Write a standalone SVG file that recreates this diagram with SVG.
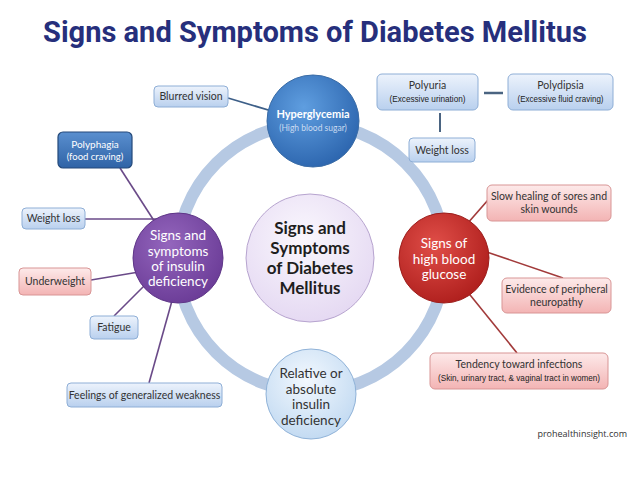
<svg xmlns="http://www.w3.org/2000/svg" width="638" height="478" viewBox="0 0 638 478">
<defs>
<linearGradient id="gBlueBox" x1="0" y1="0" x2="0" y2="1"><stop offset="0" stop-color="#edf3fc"/><stop offset="1" stop-color="#b9d0ee"/></linearGradient>
<linearGradient id="gRedBox" x1="0" y1="0" x2="0" y2="1"><stop offset="0" stop-color="#fdeaea"/><stop offset="1" stop-color="#f3b4b4"/></linearGradient>
<linearGradient id="gDarkBox" x1="0" y1="0" x2="0" y2="1"><stop offset="0" stop-color="#5a8fcf"/><stop offset="1" stop-color="#2f63a6"/></linearGradient>
<radialGradient id="gTop" cx="0.4" cy="0.35" r="0.7"><stop offset="0" stop-color="#5f9ee0"/><stop offset="1" stop-color="#2b64ad"/></radialGradient>
<radialGradient id="gPurple" cx="0.4" cy="0.35" r="0.7"><stop offset="0" stop-color="#9466bd"/><stop offset="1" stop-color="#6a3b96"/></radialGradient>
<radialGradient id="gRed" cx="0.4" cy="0.35" r="0.7"><stop offset="0" stop-color="#e04e48"/><stop offset="1" stop-color="#ae1e1c"/></radialGradient>
<radialGradient id="gCenter" cx="0.45" cy="0.35" r="0.75"><stop offset="0" stop-color="#faf7fd"/><stop offset="1" stop-color="#e2d5f1"/></radialGradient>
<radialGradient id="gBottom" cx="0.45" cy="0.35" r="0.75"><stop offset="0" stop-color="#f2f8fe"/><stop offset="1" stop-color="#bcd6f0"/></radialGradient>
<style>
.t{font-family:Lato,"Open Sans","Liberation Sans",sans-serif;text-anchor:middle}
.bx{font-size:10.5px;fill:#333}
.nar{font-family:"Liberation Sans",Arial,sans-serif;font-size:9.5px;fill:#222;text-anchor:middle}
.bb{fill:url(#gBlueBox);stroke:#8eaed6;stroke-width:1}
.rb{fill:url(#gRedBox);stroke:#d89595;stroke-width:1}
.pl{stroke:#6a4a88;stroke-width:1.6;fill:none}
.rl{stroke:#a23a3a;stroke-width:1.6;fill:none}
.bl{stroke:#3d5f88;stroke-width:1.8;fill:none}
.ct{font-size:13.5px;fill:#fff}
</style>
</defs>
<rect width="638" height="478" fill="#fff"/>
<text x="315" y="42" font-family="Roboto,'Liberation Sans',sans-serif" font-weight="bold" font-size="30" fill="#262f7c" text-anchor="middle" textLength="544" lengthAdjust="spacingAndGlyphs">Signs and Symptoms of Diabetes Mellitus</text>

<g id="connectors">
<circle cx="311" cy="258" r="134" fill="none" stroke="#b6c9e3" stroke-width="12"/>
<line class="bl" x1="228" y1="98" x2="275" y2="112"/>
<line x1="484" y1="93" x2="503" y2="93" stroke="#4a6481" stroke-width="2.5"/>
<line x1="440" y1="113" x2="440" y2="132" stroke="#4a6481" stroke-width="2"/>
<line class="pl" x1="120" y1="168" x2="160" y2="230"/>
<line class="pl" x1="85" y1="219" x2="160" y2="219"/>
<line class="pl" x1="91" y1="280" x2="145" y2="271"/>
<line class="pl" x1="114" y1="316" x2="155" y2="275"/>
<line class="pl" x1="149" y1="383" x2="175" y2="290"/>
<line class="rl" x1="460" y1="232" x2="488" y2="200"/>
<line class="rl" x1="475" y1="248" x2="563" y2="278"/>
<line class="rl" x1="462" y1="285" x2="517" y2="353"/>
</g>

<g id="center">
<circle cx="310" cy="258" r="64" fill="url(#gCenter)" stroke="#b7a4cf" stroke-width="1"/>
<text class="t" font-weight="bold" font-size="17" fill="#1e1e1e"><tspan x="310" y="234">Signs and</tspan><tspan x="310" y="254">Symptoms</tspan><tspan x="310" y="274">of Diabetes</tspan><tspan x="310" y="294">Mellitus</tspan></text>
</g>

<g id="hyperglycemia">
<circle cx="313" cy="121" r="46" fill="url(#gTop)" stroke="#3a6ca6" stroke-width="1"/>
<text class="t" x="313" y="118" font-size="11" font-weight="bold" fill="#fff">Hyperglycemia</text>
<text class="t" x="313" y="131" font-size="8.5" fill="#c9dbf1">(High blood sugar)</text>
</g>

<g id="insulin-signs">
<circle cx="178" cy="258" r="45" fill="url(#gPurple)" stroke="#5e3587" stroke-width="1"/>
<text class="t ct"><tspan x="178" y="240">Signs and</tspan><tspan x="178" y="255.5">symptoms</tspan><tspan x="178" y="270.5">of insulin</tspan><tspan x="178" y="286">deficiency</tspan></text>
</g>

<g id="glucose-signs">
<circle cx="444" cy="258" r="45" fill="url(#gRed)" stroke="#9c1d1b" stroke-width="1"/>
<text class="t ct"><tspan x="444" y="248">Signs of</tspan><tspan x="444" y="263.5">high blood</tspan><tspan x="444" y="279">glucose</tspan></text>
</g>

<g id="insulin-def">
<circle cx="311" cy="394" r="45" fill="url(#gBottom)" stroke="#8fb2d8" stroke-width="1"/>
<text class="t" font-size="13.5" fill="#333"><tspan x="311" y="378">Relative or</tspan><tspan x="311" y="393.5">absolute</tspan><tspan x="311" y="409">insulin</tspan><tspan x="311" y="424.5">deficiency</tspan></text>
</g>

<g id="blurred">
<rect class="bb" x="154" y="86" width="74" height="21" rx="4"/>
<text class="t bx" x="191" y="100">Blurred vision</text>
</g>
<g id="polyuria">
<rect class="bb" x="377" y="74" width="101" height="36" rx="5"/>
<text class="t bx" x="427.5" y="89">Polyuria</text>
<text class="nar" x="427.5" y="102" textLength="76" lengthAdjust="spacingAndGlyphs">(Excessive urination)</text>
</g>
<g id="polydipsia">
<rect class="bb" x="508" y="74" width="105" height="36" rx="5"/>
<text class="t bx" x="560.5" y="89">Polydipsia</text>
<text class="nar" x="560.5" y="102" textLength="86" lengthAdjust="spacingAndGlyphs">(Excessive fluid craving)</text>
</g>
<g id="weightloss-top">
<rect class="bb" x="409" y="138" width="66" height="24" rx="4"/>
<text class="t bx" x="442" y="153.5">Weight loss</text>
</g>
<g id="polyphagia">
<rect x="58" y="132" width="74" height="36" rx="5" fill="url(#gDarkBox)" stroke="#24497a" stroke-width="1.2"/>
<text class="t" x="95" y="148" font-size="10" fill="#fff">Polyphagia</text>
<text class="t" x="95" y="160" font-size="9.5" fill="#fff">(food craving)</text>
</g>
<g id="weightloss-left">
<rect class="bb" x="22" y="208" width="63" height="21" rx="4"/>
<text class="t bx" x="53.5" y="222">Weight loss</text>
</g>
<g id="underweight">
<rect class="rb" x="19" y="268" width="72" height="27" rx="4"/>
<text class="t bx" x="55" y="285">Underweight</text>
</g>
<g id="fatigue">
<rect class="bb" x="90" y="316" width="48" height="23" rx="4"/>
<text class="t bx" x="114" y="331">Fatigue</text>
</g>
<g id="weakness">
<rect class="bb" x="67" y="383" width="155" height="24" rx="4"/>
<text class="t bx" x="144.5" y="399">Feelings of generalized weakness</text>
</g>
<g id="slow-healing">
<rect class="rb" x="487" y="185" width="124" height="36" rx="5"/>
<text class="t bx"><tspan x="549" y="200">Slow healing of sores and</tspan><tspan x="549" y="213">skin wounds</tspan></text>
</g>
<g id="neuropathy">
<rect class="rb" x="502" y="278" width="109" height="35" rx="5"/>
<text class="t bx"><tspan x="556.5" y="293">Evidence of peripheral</tspan><tspan x="556.5" y="306">neuropathy</tspan></text>
</g>
<g id="infections">
<rect class="rb" x="430" y="353" width="178" height="36" rx="5"/>
<text class="t bx" x="519" y="368">Tendency toward infections</text>
<text class="nar" x="519" y="381" textLength="162" lengthAdjust="spacingAndGlyphs">(Skin, urinary tract, &amp; vaginal tract in women)</text>
</g>
<text x="627" y="437" font-family="'Open Sans','Liberation Sans',sans-serif" font-size="9" fill="#333" text-anchor="end">prohealthinsight.com</text>
</svg>
